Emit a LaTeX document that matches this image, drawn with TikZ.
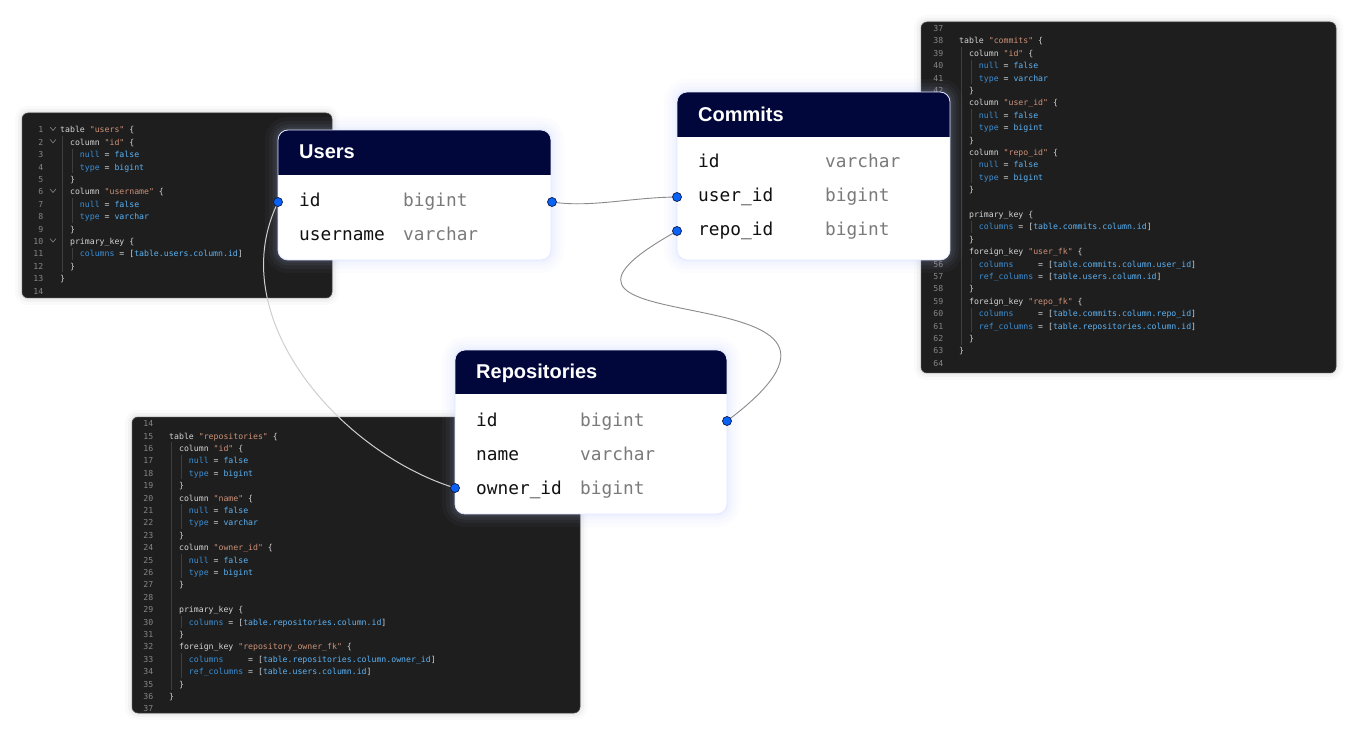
\documentclass[tikz,border=0pt]{standalone}
\usepackage{fontspec}
\setmainfont{Liberation Sans}
\newfontfamily\codefont[WordSpace={1,0,0}]{DejaVu Sans Mono}
\newfontfamily\cardmono[WordSpace={1,0,0}]{DejaVu Sans Mono}
\newfontfamily\titlefont{Liberation Sans}
\definecolor{panelbg}{HTML}{1E1E1E}
\definecolor{lnum}{HTML}{858585}
\definecolor{ckw}{HTML}{D4D4D4}
\definecolor{cstrc}{HTML}{CE9178}
\definecolor{ckey}{HTML}{3B8FD6}
\definecolor{cval}{HTML}{5CB3F5}
\definecolor{guidec}{HTML}{3E3E3E}
\definecolor{navy}{HTML}{02073B}
\definecolor{typegray}{HTML}{7A7A7A}
\definecolor{namec}{HTML}{111111}
\definecolor{dotblue}{HTML}{0A62F5}
\definecolor{dotedge}{HTML}{0B1A4A}
\definecolor{glowc}{HTML}{B4C6FF}
\definecolor{cardedge}{HTML}{E2E8FF}
\definecolor{connc}{HTML}{8A8A8A}
\definecolor{connl}{HTML}{CFCFCF}
\newcommand\Kw[1]{\textcolor{ckw}{#1}}
\newcommand\Str[1]{\textcolor{cstrc}{#1}}
\newcommand\Key[1]{\textcolor{ckey}{#1}}
\newcommand\Val[1]{\textcolor{cval}{#1}}
\newcommand\Eq{\textcolor{ckw}{=}}
\newcommand\NullF{~~~~\Key{null} \Eq{} \Val{false}}
\newcommand\TypeV[1]{~~~~\Key{type} \Eq{} \Val{#1}}
\newcommand\CloseA{~~\Kw{\}}}
\newcommand\Col[1]{~~\Kw{column} \Str{"#1"} \Kw{\{}}
% code line: prefix, number, number x, text x, baseline expr, content
\newcommand\CL[6]{%
  \node[codetxt, anchor=base east, text=lnum] (#1n#2) at (#3,{#5}) {#2};
  \node[codetxt, anchor=base west] (#1t#2) at (#4,{#5}) {#6};}
\newcommand\UL[2]{\CL{u}{#1}{43.5}{60}{133+12.4*(#1-1)}{#2}}
\newcommand\ML[2]{\CL{m}{#1}{943.5}{959}{31.6+12.4*(#1-37)}{#2}}
\newcommand\RL[2]{\CL{r}{#1}{153.5}{169}{439+12.4*(#1-15)}{#2}}
\newcommand\UG[3]{\draw[guide] ({62.5+10*(#1-1)},{133+12.4*(#2-1)-9}) -- ({62.5+10*(#1-1)},{133+12.4*(#3-1)+3});}
\newcommand\MG[3]{\draw[guide] ({961.5+10*(#1-1)},{31.6+12.4*(#2-37)-9}) -- ({961.5+10*(#1-1)},{31.6+12.4*(#3-37)+3});}
\newcommand\RG[3]{\draw[guide] ({171.5+10*(#1-1)},{439+12.4*(#2-15)-9}) -- ({171.5+10*(#1-1)},{439+12.4*(#3-15)+3});}
\newcommand\Fold[1]{\draw[lnum, line width=0.6pt] (50,{133+12.4*(#1-1)-6}) -- (53,{133+12.4*(#1-1)-2.5}) -- (56,{133+12.4*(#1-1)-6});}
% panel: x1 y1 x2 y2
\newcommand\Panel[4]{%
  \foreach \w/\o in {14/0.02,8/0.03,3/0.045}
    \draw[black, line width=\w pt, opacity=\o, rounded corners=6] (#1,#2) rectangle (#3,#4);
  \fill[panelbg, rounded corners=6] (#1,#2) rectangle (#3,#4);
  \draw[black!70, line width=0.5pt, rounded corners=6] (#1,#2) rectangle (#3,#4);}
% card: x1 y1 x2 y2 header-bottom
\newcommand\Card[5]{%
  \foreach \w/\o in {26/0.035,18/0.045,11/0.06,5/0.08}
    \draw[glowc, line width=\w pt, opacity=\o, rounded corners=10] (#1,#2) rectangle (#3,#4);
  \begin{scope}
    \clip[rounded corners=10] (#1,#2) rectangle (#3,#4);
    \fill[white] (#1,#2) rectangle (#3,#4);
    \fill[navy] (#1,#2) rectangle (#3,#5);
  \end{scope}
  \draw[cardedge, line width=0.8pt, rounded corners=10] (#1,#2) rectangle (#3,#4);}
\tikzset{
  codetxt/.style={font=\codefont\fontsize{8.2}{10}\selectfont, inner sep=0pt, text=ckw},
  guide/.style={guidec, line width=0.7pt},
  ctitle/.style={font=\titlefont\bfseries\fontsize{20}{24}\selectfont, text=white, anchor=base west, inner sep=0pt},
  cname/.style={font=\cardmono\fontsize{17.8}{20}\selectfont, text=namec, anchor=base west, inner sep=0pt},
  ctype/.style={font=\cardmono\fontsize{17.8}{20}\selectfont, text=typegray, anchor=base west, inner sep=0pt},
  dot/.style={circle, fill=dotblue, draw=dotedge, line width=0.7pt, minimum size=9pt, inner sep=0pt},
  conn/.style={connc, line width=0.9pt},
  connlight/.style={connl, line width=1pt}
}
\begin{document}
\begin{tikzpicture}[x=1pt,y=-1pt]
\useasboundingbox (0,0) rectangle (1358,735);
\fill[white] (0,0) rectangle (1358,735);

% ---------- users code panel ----------
\Panel{22}{113}{332}{298}
\UG{1}{2}{12}
\UG{2}{3}{4}
\UG{2}{7}{8}
\UG{2}{11}{11}
\Fold{1}\Fold{2}\Fold{6}\Fold{10}
\UL{1}{\Kw{table} \Str{"users"} \Kw{\{}}
\UL{2}{\Col{id}}
\UL{3}{\NullF}
\UL{4}{\TypeV{bigint}}
\UL{5}{\CloseA}
\UL{6}{\Col{username}}
\UL{7}{\NullF}
\UL{8}{\TypeV{varchar}}
\UL{9}{\CloseA}
\UL{10}{~~\Kw{primary\_key \{}}
\UL{11}{~~~~\Key{columns} \Eq{} \Kw{[}\Val{table.users.column.id}\Kw{]}}
\UL{12}{\CloseA}
\UL{13}{\Kw{\}}}
\UL{14}{}

% ---------- commits code panel ----------
\Panel{921}{22}{1336}{373}
\MG{1}{39}{62}
\MG{2}{40}{41}
\MG{2}{44}{45}
\MG{2}{48}{49}
\MG{2}{53}{53}
\MG{2}{56}{57}
\MG{2}{60}{61}
\ML{37}{}
\ML{38}{\Kw{table} \Str{"commits"} \Kw{\{}}
\ML{39}{\Col{id}}
\ML{40}{\NullF}
\ML{41}{\TypeV{varchar}}
\ML{42}{\CloseA}
\ML{43}{\Col{user\_id}}
\ML{44}{\NullF}
\ML{45}{\TypeV{bigint}}
\ML{46}{\CloseA}
\ML{47}{\Col{repo\_id}}
\ML{48}{\NullF}
\ML{49}{\TypeV{bigint}}
\ML{50}{\CloseA}
\ML{51}{}
\ML{52}{~~\Kw{primary\_key \{}}
\ML{53}{~~~~\Key{columns} \Eq{} \Kw{[}\Val{table.commits.column.id}\Kw{]}}
\ML{54}{\CloseA}
\ML{55}{~~\Kw{foreign\_key} \Str{"user\_fk"} \Kw{\{}}
\ML{56}{~~~~\Key{columns}~~~~~\Eq{} \Kw{[}\Val{table.commits.column.user\_id}\Kw{]}}
\ML{57}{~~~~\Key{ref\_columns} \Eq{} \Kw{[}\Val{table.users.column.id}\Kw{]}}
\ML{58}{\CloseA}
\ML{59}{~~\Kw{foreign\_key} \Str{"repo\_fk"} \Kw{\{}}
\ML{60}{~~~~\Key{columns}~~~~~\Eq{} \Kw{[}\Val{table.commits.column.repo\_id}\Kw{]}}
\ML{61}{~~~~\Key{ref\_columns} \Eq{} \Kw{[}\Val{table.repositories.column.id}\Kw{]}}
\ML{62}{\CloseA}
\ML{63}{\Kw{\}}}
\ML{64}{}

% ---------- repositories code panel ----------
\Panel{132}{417}{580}{713}
\RG{1}{16}{35}
\RG{2}{17}{18}
\RG{2}{21}{22}
\RG{2}{25}{26}
\RG{2}{30}{30}
\RG{2}{33}{34}
\RL{14}{}
\RL{15}{\Kw{table} \Str{"repositories"} \Kw{\{}}
\RL{16}{\Col{id}}
\RL{17}{\NullF}
\RL{18}{\TypeV{bigint}}
\RL{19}{\CloseA}
\RL{20}{\Col{name}}
\RL{21}{\NullF}
\RL{22}{\TypeV{varchar}}
\RL{23}{\CloseA}
\RL{24}{\Col{owner\_id}}
\RL{25}{\NullF}
\RL{26}{\TypeV{bigint}}
\RL{27}{\CloseA}
\RL{28}{}
\RL{29}{~~\Kw{primary\_key \{}}
\RL{30}{~~~~\Key{columns} \Eq{} \Kw{[}\Val{table.repositories.column.id}\Kw{]}}
\RL{31}{\CloseA}
\RL{32}{~~\Kw{foreign\_key} \Str{"repository\_owner\_fk"} \Kw{\{}}
\RL{33}{~~~~\Key{columns}~~~~~\Eq{} \Kw{[}\Val{table.repositories.column.owner\_id}\Kw{]}}
\RL{34}{~~~~\Key{ref\_columns} \Eq{} \Kw{[}\Val{table.users.column.id}\Kw{]}}
\RL{35}{\CloseA}
\RL{36}{\Kw{\}}}
\RL{37}{}

% ---------- cards ----------
\Card{278}{130}{551}{260}{175}
\node[ctitle] (usersTitle) at (299,159) {Users};
\node[cname] (usersN1) at (299,207) {id};
\node[ctype] (usersT1) at (403,207) {bigint};
\node[cname] (usersN2) at (299,241) {username};
\node[ctype] (usersT2) at (403,241) {varchar};

\Card{677}{92}{950}{260}{137}
\node[ctitle] (commitsTitle) at (698,122) {Commits};
\node[cname] (commitsN1) at (698,168) {id};
\node[ctype] (commitsT1) at (825,168) {varchar};
\node[cname] (commitsN2) at (698,202) {user\_id};
\node[ctype] (commitsT2) at (825,202) {bigint};
\node[cname] (commitsN3) at (698,236) {repo\_id};
\node[ctype] (commitsT3) at (825,236) {bigint};

\Card{455}{350}{727}{514}{394}
\node[ctitle] (reposTitle) at (476,379) {Repositories};
\node[cname] (reposN1) at (476,426) {id};
\node[ctype] (reposT1) at (580,426) {bigint};
\node[cname] (reposN2) at (476,460) {name};
\node[ctype] (reposT2) at (580,460) {varchar};
\node[cname] (reposN3) at (476,494) {owner\_id};
\node[ctype] (reposT3) at (580,494) {bigint};

% ---------- ports ----------
\node[dot] (uL) at (278,202) {};
\node[dot] (uR) at (552,202) {};
\node[dot] (cU) at (677,197) {};
\node[dot] (cR) at (677,231) {};
\node[dot] (rI) at (727,421) {};
\node[dot] (rO) at (455,488) {};

% ---------- connectors ----------
\draw[conn] (uR) .. controls (592,207) and (630,198) .. (cU);
\draw[conn] (cR) .. controls (473,347) and (926,268) .. (rI);
\draw[connlight] (uL) .. controls (225,320) and (340,450) .. (rO);
\end{tikzpicture}
\end{document}
